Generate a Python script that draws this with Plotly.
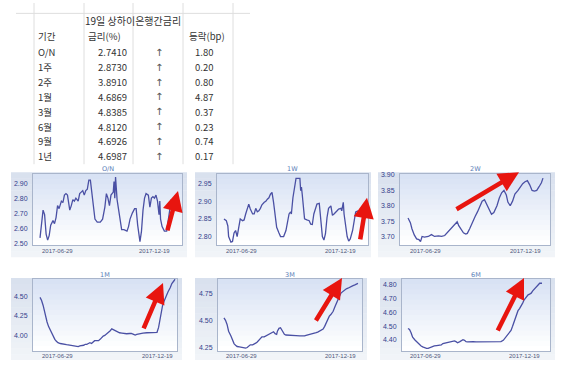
import plotly.graph_objects as go
import pandas as pd

W, H = 570, 369
def px_x(v): return v / W
def px_y(v): return 1 - v / H

# ---------------- table data ----------------
table_title = "19일 상하이은행간금리"
table_headers = ["기간", "금리(%)", "등락(bp)"]
periods = ["O/N", "1주", "2주", "1월", "3월", "6월", "9월", "1년"]
rates = ["2.7410", "2.8730", "3.8910", "4.6869", "4.8385", "4.8120", "4.6926", "4.6987"]
directions = ["↑", "↑", "↑", "↑", "↑", "↑", "↑", "↑"]
changes_bp = ["1.80", "0.20", "0.80", "4.87", "0.37", "0.23", "0.74", "0.17"]

# ---------------- chart data (days after start_date) ----------------
start_date = "2017-06-29"
end_date = "2017-12-19"
x_tick_labels = [start_date, end_date]

on_days = [0, 4, 6, 8, 10, 12, 14, 17, 19, 21, 23, 25, 28, 30, 32, 34, 36, 39, 41, 43,
           45, 47, 50, 52, 54, 56, 58, 60, 62, 64, 66, 68, 70, 72, 75, 79, 82, 85, 87, 89,
           91, 93, 96, 97, 98, 99, 101, 103, 105, 107, 110, 114, 116, 118, 121, 124, 126, 128, 131, 133,
           135, 137, 139, 142, 144, 146, 148, 150, 152, 154, 156, 157, 158, 160, 163, 166, 168, 170, 172, 173]
on_vals = [2.535, 2.72, 2.69, 2.56, 2.52, 2.55, 2.62, 2.65, 2.63, 2.67, 2.75, 2.73, 2.78, 2.77, 2.82, 2.83, 2.82, 2.72, 2.75, 2.79,
           2.78, 2.80, 2.78, 2.83, 2.84, 2.85, 2.82, 2.85, 2.86, 2.92, 2.92, 2.84, 2.74, 2.66, 2.64, 2.64, 2.66, 2.74, 2.83, 2.80,
           2.75, 2.82, 2.84, 2.91, 2.80, 2.94, 2.79, 2.73, 2.65, 2.59, 2.59, 2.58, 2.61, 2.66, 2.70, 2.73, 2.73, 2.62, 2.51, 2.58,
           2.72, 2.80, 2.83, 2.82, 2.74, 2.80, 2.81, 2.80, 2.82, 2.78, 2.69, 2.78, 2.66, 2.61, 2.58, 2.58, 2.65, 2.74, 2.79, 2.79]

w1_days = [0, 3, 5, 6, 9, 11, 13, 15, 17, 19, 21, 24, 26, 28, 30, 32, 34, 37, 39, 41,
           43, 45, 47, 49, 52, 54, 56, 58, 60, 62, 64, 66, 68, 71, 73, 75, 77, 80, 82, 84,
           86, 87, 89, 91, 93, 95, 98, 99, 100, 101, 102, 104, 107, 110, 112, 114, 116, 118, 120, 123,
           125, 127, 129, 131, 133, 135, 138, 140, 142, 144, 146, 148, 151, 152, 154, 155, 157, 159, 161, 163,
           166, 168, 170, 173]
w1_vals = [2.850, 2.845, 2.830, 2.800, 2.784, 2.786, 2.810, 2.817, 2.800, 2.830, 2.850, 2.845, 2.847, 2.864, 2.878, 2.892, 2.878, 2.864, 2.864, 2.880,
           2.870, 2.873, 2.880, 2.890, 2.897, 2.900, 2.906, 2.910, 2.920, 2.925, 2.897, 2.860, 2.826, 2.810, 2.800, 2.800, 2.800, 2.817, 2.845, 2.864,
           2.870, 2.864, 2.910, 2.943, 2.965, 2.965, 2.965, 2.930, 2.940, 2.920, 2.892, 2.850, 2.847, 2.845, 2.835, 2.834, 2.864, 2.880, 2.892, 2.894,
           2.845, 2.800, 2.790, 2.808, 2.854, 2.880, 2.887, 2.860, 2.864, 2.870, 2.873, 2.878, 2.880, 2.873, 2.897, 2.864, 2.826, 2.800, 2.787, 2.793,
           2.817, 2.850, 2.870, 2.873]

w2_days = [0, 3, 5, 8, 11, 14, 16, 18, 21, 26, 30, 34, 39, 43, 47, 51, 56, 60, 63, 65,
           68, 71, 74, 76, 79, 83, 86, 89, 92, 95, 98, 101, 104, 107, 110, 114, 117, 120, 123, 126,
           128, 131, 134, 137, 141, 144, 147, 150, 153, 156, 159, 162, 165, 168, 171, 173]
w2_vals = [3.760, 3.745, 3.725, 3.705, 3.692, 3.690, 3.683, 3.700, 3.698, 3.700, 3.706, 3.700, 3.702, 3.700, 3.703, 3.715, 3.730, 3.740, 3.748, 3.735,
           3.722, 3.712, 3.708, 3.710, 3.725, 3.750, 3.765, 3.780, 3.800, 3.815, 3.820, 3.805, 3.785, 3.772, 3.778, 3.800, 3.825, 3.842, 3.850, 3.835,
           3.812, 3.800, 3.815, 3.838, 3.850, 3.862, 3.872, 3.878, 3.882, 3.868, 3.850, 3.848, 3.850, 3.862, 3.875, 3.890]

m1_days = [0, 2, 4, 6, 9, 11, 13, 15, 17, 19, 21, 23, 26, 30, 34, 38, 43, 47, 49, 51,
           56, 58, 60, 62, 64, 66, 68, 70, 73, 75, 77, 79, 81, 83, 85, 88, 90, 92, 94, 96,
           98, 100, 102, 105, 107, 109, 111, 115, 117, 120, 122, 124, 126, 128, 130, 132, 137, 141, 144, 147,
           150, 152, 155, 157, 159, 161, 164, 167, 169, 172, 173]
m1_vals = [4.49, 4.45, 4.385, 4.28, 4.17, 4.11, 4.065, 4.02, 3.98, 3.944, 3.92, 3.90, 3.89, 3.88, 3.876, 3.87, 3.86, 3.846, 3.85, 3.86,
           3.867, 3.88, 3.88, 3.89, 3.90, 3.89, 3.91, 3.927, 3.927, 3.927, 3.944, 3.97, 3.987, 3.995, 4.01, 4.03, 4.056, 4.08, 4.07, 4.056,
           4.047, 4.04, 4.03, 4.026, 4.02, 4.02, 4.017, 4.02, 4.02, 4.008, 4.00, 4.008, 4.013, 4.017, 4.02, 4.026, 4.03, 4.034, 4.03, 4.034,
           4.036, 4.10, 4.28, 4.38, 4.44, 4.50, 4.56, 4.62, 4.67, 4.71, 4.727]

m3_days = [0, 2, 4, 6, 9, 11, 13, 15, 17, 20, 23, 26, 28, 30, 32, 34, 37, 39, 41, 43,
           45, 47, 49, 52, 54, 56, 58, 60, 62, 64, 66, 68, 69, 71, 73, 74, 76, 78, 80, 83,
           85, 89, 93, 98, 102, 104, 106, 108, 111, 113, 115, 117, 119, 121, 123, 126, 128, 130, 132, 134,
           136, 138, 141, 143, 145, 147, 149, 151, 154, 156, 158, 160, 162, 164, 166, 169, 171, 173]
m3_vals = [4.523, 4.50, 4.462, 4.40, 4.356, 4.317, 4.286, 4.27, 4.259, 4.256, 4.25, 4.25, 4.244, 4.25, 4.265, 4.274, 4.274, 4.28, 4.29, 4.30,
           4.317, 4.335, 4.347, 4.347, 4.356, 4.365, 4.371, 4.38, 4.386, 4.395, 4.377, 4.371, 4.40, 4.426, 4.432, 4.417, 4.386, 4.371, 4.365, 4.362,
           4.365, 4.362, 4.359, 4.356, 4.353, 4.356, 4.362, 4.365, 4.371, 4.377, 4.38, 4.383, 4.386, 4.392, 4.40, 4.408, 4.42, 4.444, 4.477, 4.514,
           4.538, 4.553, 4.583, 4.62, 4.66, 4.69, 4.72, 4.75, 4.77, 4.786, 4.79, 4.795, 4.80, 4.805, 4.817, 4.826, 4.835, 4.84]

m6_days = [0, 2, 4, 6, 9, 11, 13, 15, 17, 19, 21, 24, 26, 28, 30, 32, 34, 37, 39, 41,
           43, 45, 47, 49, 52, 54, 56, 58, 60, 62, 64, 67, 69, 71, 73, 75, 77, 80, 84, 88,
           92, 97, 101, 105, 110, 114, 118, 120, 123, 125, 127, 129, 131, 133, 135, 138, 140, 142, 144, 146,
           148, 150, 153, 155, 157, 159, 161, 163, 166, 168, 170, 173]
m6_vals = [4.484, 4.477, 4.453, 4.42, 4.40, 4.388, 4.38, 4.37, 4.357, 4.35, 4.345, 4.34, 4.34, 4.345, 4.35, 4.352, 4.357, 4.36, 4.362, 4.364,
           4.364, 4.374, 4.376, 4.378, 4.38, 4.383, 4.386, 4.388, 4.393, 4.388, 4.38, 4.388, 4.398, 4.402, 4.398, 4.388, 4.386, 4.388, 4.388, 4.386,
           4.386, 4.386, 4.386, 4.386, 4.386, 4.386, 4.386, 4.388, 4.398, 4.412, 4.429, 4.44, 4.453, 4.47, 4.50, 4.55, 4.596, 4.613, 4.628, 4.644,
           4.668, 4.692, 4.716, 4.728, 4.733, 4.74, 4.757, 4.771, 4.788, 4.805, 4.812, 4.812]

on_ticks = [2.50, 2.60, 2.70, 2.80, 2.90]
w1_ticks = [2.80, 2.85, 2.90, 2.95]
w2_ticks = [3.70, 3.75, 3.80, 3.85, 3.90]
m1_ticks = [4.00, 4.25, 4.50]
m3_ticks = [4.25, 4.50, 4.75]
m6_ticks = [4.40, 4.50, 4.60, 4.70, 4.80]

panel_names = ["O/N", "1W", "2W", "1M", "3M", "6M"]

# ---------------- layout geometry (pixels) ----------------
panels = [
    dict(days=on_days, vals=on_vals, ticks=on_ticks, box=(33, 182, 173, 245), frame=(11, 187, 171, 257),
         yr=(2.485, 2.96), xpad=(-9.2, 186.1), arrow=((167, 231), (178, 190)), ty=168, ly=250.5),
    dict(days=w1_days, vals=w1_vals, ticks=w1_ticks, box=(217, 368, 173, 245), frame=(195, 371, 171, 257),
         yr=(2.775, 2.977), xpad=(-9.0, 185.9), arrow=((360, 240), (367, 197)), ty=168, ly=250.5),
    dict(days=w2_days, vals=w2_vals, ticks=w2_ticks, box=(400, 550, 173, 245), frame=(378, 555, 171, 257),
         yr=(3.671, 3.903), xpad=(-10.3, 182.0), arrow=((455, 209), (519, 171)), ty=168, ly=250.5),
    dict(days=m1_days, vals=m1_vals, ticks=m1_ticks, box=(33, 177, 279, 352), frame=(11, 182, 278, 361),
         yr=(3.79, 4.73), xpad=(-9.0, 175.6), arrow=((143, 330), (163, 283)), ty=275, ly=356.5),
    dict(days=m3_days, vals=m3_vals, ticks=m3_ticks, box=(218, 362, 279, 352), frame=(195, 367, 278, 361),
         yr=(4.216, 4.88), xpad=(-7.7, 178.2), arrow=((315, 322), (342, 278)), ty=275, ly=356.5),
    dict(days=m6_days, vals=m6_vals, ticks=m6_ticks, box=(402, 550, 279, 352), frame=(380, 555, 278, 361),
         yr=(4.319, 4.843), xpad=(-7.7, 183.3), arrow=((497, 332), (524, 278)), ty=275, ly=356.5),
]

base = pd.Timestamp(start_date)
def to_date(d):
    return (base + pd.Timedelta(days=d)).strftime("%Y-%m-%d %H:%M")

def hex2rgb(h):
    h = h.lstrip("#")
    return tuple(int(h[i:i + 2], 16) for i in (0, 2, 4))

def gradient(shapes, x0, x1, y0, y1, ctop, cbot, n=14):
    a, b = hex2rgb(ctop), hex2rgb(cbot)
    step = (y1 - y0) / n
    for k in range(n):
        t = k / (n - 1)
        c = tuple(round(a[j] + (b[j] - a[j]) * t) for j in range(3))
        shapes.append(dict(type="rect", xref="paper", yref="paper", layer="below",
                           x0=px_x(x0), x1=px_x(x1), y0=px_y(min(y1, y0 + step * (k + 1) + 0.5)), y1=px_y(y0 + step * k),
                           line=dict(width=0), fillcolor="rgb(%d,%d,%d)" % c))

fig = go.Figure()
shapes = []
annotations = []
layout_axes = {}

for i, p in enumerate(panels, start=1):
    xs = "" if i == 1 else str(i)
    L, R, T, B = p["box"]
    fL, fR, fT, fB = p["frame"]
    gradient(shapes, fL, fR, fT, fB, "#d9e1ee", "#f1f4f8")
    gradient(shapes, L, R, T, B, "#d8e2f4", "#ffffff")

    fig.add_trace(go.Scatter(x=[to_date(d) for d in p["days"]], y=p["vals"], mode="lines",
                             line=dict(color="#4a50a4", width=1.3), xaxis="x" + xs, yaxis="y" + xs,
                             showlegend=False, hoverinfo="skip"))

    layout_axes["xaxis" + xs] = dict(domain=[px_x(L), px_x(R)], anchor="y" + xs, type="date",
                                     range=[to_date(p["xpad"][0]), to_date(p["xpad"][1])],
                                     showticklabels=False, ticks="", showgrid=False, zeroline=False,
                                     showline=True, mirror=True, linecolor="#a9b5cb", linewidth=1)
    layout_axes["yaxis" + xs] = dict(domain=[px_y(B), px_y(T)], anchor="x" + xs, range=list(p["yr"]),
                                     tickvals=p["ticks"], tickformat=".2f", ticks="", ticklabelstandoff=3,
                                     tickfont=dict(family="Liberation Sans", size=7, color="#34408c"),
                                     showgrid=False, zeroline=False,
                                     showline=True, mirror=True, linecolor="#a9b5cb", linewidth=1)

    annotations.append(dict(text=panel_names[i - 1], x=px_x((L + R) / 2), y=px_y(p["ty"]), xref="paper", yref="paper",
                            showarrow=False, xanchor="center", yanchor="middle",
                            font=dict(family="DejaVu Sans", size=6.5, color="#5b80b8")))
    for lab, anchor in zip(x_tick_labels, ["left", "right"]):
        annotations.append(dict(text=lab, x=lab, y=px_y(p["ly"]), xref="x" + xs, yref="paper",
                                showarrow=False, xanchor=anchor, yanchor="middle",
                                font=dict(family="Liberation Sans", size=6, color="#50587a")))
    (tx, ty), (hx, hy) = p["arrow"]
    annotations.append(dict(text="", x=px_x(hx), y=px_y(hy), xref="paper", yref="paper",
                            ax=tx - hx, ay=ty - hy, axref="pixel", ayref="pixel",
                            showarrow=True, arrowhead=2, arrowsize=0.9, arrowwidth=4.5,
                            arrowcolor="#e8150f", standoff=0, startstandoff=0))

# ---------------- table ----------------
for gx in [34, 84, 133, 183, 233]:
    shapes.append(dict(type="line", xref="paper", yref="paper", x0=px_x(gx), x1=px_x(gx), y0=px_y(0), y1=px_y(163),
                       line=dict(color="#dedede", width=1)))
shapes.append(dict(type="line", xref="paper", yref="paper", x0=px_x(16), x1=px_x(250), y0=px_y(10.5), y1=px_y(10.5),
                   line=dict(color="#dedede", width=1)))

tfont = dict(family="Noto Sans CJK KR", size=9.5, color="#333333")
annotations.append(dict(text=table_title, x=px_x(133), y=px_y(17.5), xref="paper", yref="paper",
                        showarrow=False, xanchor="center", yanchor="middle",
                        font=dict(family="Noto Sans CJK KR", size=10, color="#333333")))
for hdr, hx in zip(table_headers, [36, 86, 187]):
    annotations.append(dict(text=hdr, x=px_x(hx), y=px_y(33.5), xref="paper", yref="paper",
                            showarrow=False, xanchor="left", yanchor="middle", font=tfont))
for r in range(len(periods)):
    yy = px_y(50 + 15 * r)
    annotations.append(dict(text=periods[r], x=px_x(36), y=yy, xref="paper", yref="paper",
                            showarrow=False, xanchor="left", yanchor="middle", font=tfont))
    annotations.append(dict(text=rates[r], x=px_x(128.5), y=yy, xref="paper", yref="paper",
                            showarrow=False, xanchor="right", yanchor="middle", font=tfont))
    annotations.append(dict(text=directions[r], x=px_x(159), y=yy, xref="paper", yref="paper",
                            showarrow=False, xanchor="center", yanchor="middle",
                            font=dict(family="DejaVu Sans", size=10, color="#555555")))
    annotations.append(dict(text=changes_bp[r], x=px_x(192.5), y=yy, xref="paper", yref="paper",
                            showarrow=False, xanchor="left", yanchor="middle", font=tfont))

fig.update_layout(width=W, height=H, margin=dict(l=0, r=0, t=0, b=0),
                  paper_bgcolor="white", plot_bgcolor="rgba(0,0,0,0)",
                  shapes=shapes, annotations=annotations, showlegend=False, **layout_axes)

fig.write_html("out.html", config={"displayModeBar": False},
               post_script="document.body.style.margin='0px';")
